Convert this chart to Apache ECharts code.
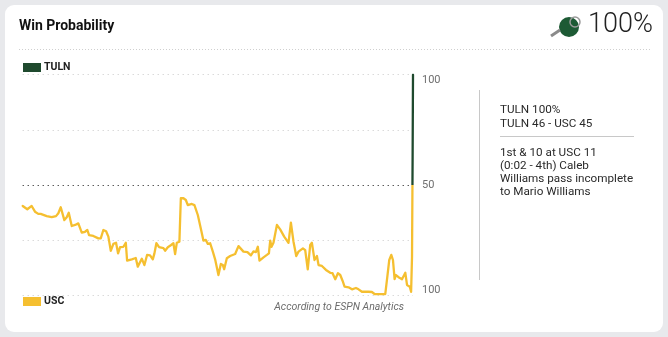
<!DOCTYPE html>
<html>
<head>
<meta charset="utf-8">
<script src="https://cdn.jsdelivr.net/npm/echarts@6/dist/echarts.min.js"></script>
<style>
  html, body { margin: 0; padding: 0; background: #e8e9ec; }
  #wrap { position: relative; width: 668px; height: 337px; background: #e8e9ec; overflow: hidden; }
  #card { position: absolute; left: 5px; top: 5px; width: 658px; height: 327px; background: #fff; border-radius: 9px; }
  #chart { position: absolute; left: 0; top: 0; width: 668px; height: 337px; }
</style>
</head>
<body>
<div id="wrap"><div id="card"></div><div id="chart"></div></div>
<script>
// Game time elapsed (minutes of a 60-minute game)
const elapsedMin = [
  0.00, 0.20, 0.71, 1.38, 1.89, 2.40, 2.77, 3.69, 4.46, 5.12, 5.48, 5.85, 6.15, 6.40, 6.77, 7.08,
  7.54, 8.05, 8.55, 9.08, 9.58, 9.94, 10.20, 10.86, 11.63, 12.00, 12.40, 12.82, 13.17, 13.54, 13.94,
  14.35, 14.66, 14.97, 15.48, 15.85, 16.05, 16.77, 17.38, 17.69, 17.89, 18.31, 18.71, 19.12, 19.58,
  20.00, 20.25, 20.55, 20.97, 21.63, 21.89, 22.31, 22.82, 23.17, 23.43, 23.69, 24.09, 24.31, 24.71,
  25.08, 25.38, 26.00, 26.40, 26.92, 27.43, 27.78, 28.15, 28.46, 28.82, 29.23, 29.58, 29.85, 30.09,
  30.46, 30.77, 30.97, 31.38, 31.89, 32.66, 33.17, 33.43, 33.94, 34.55, 35.08, 35.48, 35.85, 36.15,
  36.40, 37.02, 37.54, 37.85, 38.05, 38.25, 38.55, 39.08, 39.58, 40.20, 40.86, 41.23, 41.43, 41.63,
  42.05, 42.40, 43.08, 43.43, 43.82, 44.20, 44.46, 44.86, 45.23, 45.48, 46.00, 46.62, 47.28, 47.63,
  48.05, 48.46, 48.82, 49.17, 49.48, 50.09, 50.62, 51.23, 51.63, 52.15, 53.17, 53.68, 54.09, 54.97,
  55.74, 56.05, 56.35, 56.66, 56.92, 57.17, 57.38, 57.78, 58.31, 58.82, 59.08, 59.51, 59.71, 59.85,
  59.94, 60.00
];
// Tulane win probability (%) — below 50 means USC favoured
const tulnWinPct = [
  40.5, 41.1, 39.0, 40.5, 37.9, 36.9, 36.9, 35.9, 35.4, 35.9, 37.2, 39.9, 39.9, 34.1, 35.4, 37.4,
  31.4, 31.9, 32.6, 28.4, 28.8, 29.6, 27.3, 26.9, 25.8, 25.8, 29.6, 29.0, 26.6, 20.2, 23.3,
  23.8, 19.0, 21.8, 22.0, 23.8, 15.7, 16.3, 16.9, 13.0, 12.7, 16.6, 13.7, 18.3, 18.1,
  16.3, 19.0, 23.6, 21.8, 21.4, 20.2, 21.8, 22.8, 23.6, 18.7, 23.8, 24.3, 44.0, 44.0,
  43.2, 40.9, 41.4, 40.9, 36.4, 29.6, 24.8, 25.1, 23.3, 23.6, 19.8, 16.3, 16.0, 9.2,
  14.2, 13.7, 11.8, 16.8, 17.8, 18.7, 22.3, 22.8, 19.8, 19.6, 18.1, 19.9, 19.6, 22.0,
  15.7, 17.2, 18.3, 19.0, 24.8, 22.0, 23.8, 31.9, 29.9, 26.6, 23.8, 32.9, 32.6, 24.3,
  17.8, 19.8, 21.3, 20.5, 11.8, 22.8, 23.8, 16.0, 17.8, 13.7, 13.3, 11.5, 10.2, 10.0,
  7.3, 10.0, 9.2, 6.6, 3.9, 3.6, 2.7, 3.3, 2.7, 1.6, 1.6, 1.5, 0.6, 0.5,
  0.6, 8.4, 16.0, 18.3, 16.0, 7.3, 9.2, 8.2, 7.3, 10.2, 4.7, 3.9, 1.6, 17.5,
  62.0, 100.0
];
const yTickLabels = { 0: '100', 50: '50', 100: '100' };
const teamHome = 'TULN';
const teamAway = 'USC';
const headerPct = '100%';
const infoLines = ['TULN 100%', 'TULN 46 - USC 45'];
const playLines = ['1st & 10 at USC 11', '(0:02 - 4th) Caleb', 'Williams pass incomplete', 'to Mario Williams'];

const GREEN = '#1f4a2e';
const YELLOW = '#f5bf30';
const FONT = 'Roboto, "Liberation Sans", sans-serif';

const chart = echarts.init(document.getElementById('chart'), null, { renderer: 'canvas' });
const seriesData = elapsedMin.map((t, i) => [t, tulnWinPct[i]]);

// colour split at 50%: gradient relative to the line's own value range
const vMax = Math.max(...tulnWinPct), vMin = Math.min(...tulnWinPct);
const split = (vMax - 50) / (vMax - vMin);
const lineColor = new echarts.graphic.LinearGradient(0, 0, 0, 1, [
  { offset: 0, color: GREEN }, { offset: split, color: GREEN },
  { offset: split, color: YELLOW }, { offset: 1, color: YELLOW }
]);

const graphics = [
  { type: 'text', left: 19, top: 19, style: { text: 'Win Probability', font: 'bold 14px ' + FONT, fill: '#111' } },
  { type: 'line', shape: { x1: 19, y1: 49.5, x2: 652, y2: 49.5 }, style: { stroke: '#cfcfcf', lineWidth: 1, lineDash: [1, 2] } },
  { type: 'text', right: 15, top: 12, style: { text: headerPct, font: '300 27px ' + FONT, fill: '#222' } },
  // simple logo placeholder
  { type: 'circle', shape: { cx: 569, cy: 27, r: 10 }, style: { fill: '#1d5a34' } },
  { type: 'circle', shape: { cx: 575, cy: 22, r: 5 }, style: { fill: 'none', stroke: '#9a9a9a', lineWidth: 1.5 } },
  { type: 'line', shape: { x1: 551, y1: 36, x2: 560, y2: 30 }, style: { stroke: '#8a8a8a', lineWidth: 3 } },
  // legend
  { type: 'rect', shape: { x: 23, y: 63, width: 18, height: 9 }, style: { fill: GREEN } },
  { type: 'text', left: 44, top: 62, style: { text: teamHome, font: 'bold 10.5px ' + FONT, fill: '#222' } },
  { type: 'rect', shape: { x: 23, y: 297, width: 18, height: 9 }, style: { fill: YELLOW } },
  { type: 'text', left: 44, top: 296, style: { text: teamAway, font: 'bold 10.5px ' + FONT, fill: '#222' } },
  { type: 'text', style: { x: 404, y: 307, text: 'According to ESPN Analytics', font: 'italic 10.5px ' + FONT, fill: '#6c6c6c', align: 'right', verticalAlign: 'middle' } },
  // right panel
  { type: 'line', shape: { x1: 479.5, y1: 90, x2: 479.5, y2: 280 }, style: { stroke: '#c8c8c8', lineWidth: 1 } },
  { type: 'text', style: { x: 500, y: 103.5, text: infoLines.join('\n'), font: '11.7px ' + FONT, lineHeight: 13.5, fill: '#2a2a2a' } },
  { type: 'line', shape: { x1: 500, y1: 136.5, x2: 634, y2: 136.5 }, style: { stroke: '#c8c8c8', lineWidth: 1 } },
  { type: 'text', style: { x: 500, y: 146.5, text: playLines.join('\n'), font: '11.7px ' + FONT, lineHeight: 13.1, fill: '#2a2a2a' } }
];

chart.setOption({
  backgroundColor: 'transparent',
  animation: false,
  grid: { left: 22.7, right: 255, top: 74.7, bottom: 41.7, containLabel: false },
  xAxis: { type: 'value', min: 0, max: 60, show: false },
  yAxis: {
    type: 'value', position: 'right', min: 0, max: 100, interval: 25,
    axisLine: { show: false }, axisTick: { show: false },
    axisLabel: {
      margin: 9, color: '#6f6f6f', fontSize: 11, fontFamily: FONT,
      verticalAlignMinLabel: 'bottom', verticalAlignMaxLabel: 'top',
      formatter: v => yTickLabels[v] !== undefined ? yTickLabels[v] : ''
    },
    splitLine: {
      show: true,
      lineStyle: { color: ['#c9c9c9', '#c9c9c9', '#111111', '#c9c9c9', '#c9c9c9'], type: [1, 4], width: 1 }
    }
  },
  series: [{
    type: 'line', data: seriesData, showSymbol: false, symbol: 'none',
    lineStyle: { width: 2.3, color: lineColor, join: 'round', cap: 'round' }, z: 3
  }],
  graphic: graphics
});
</script>
</body>
</html>
